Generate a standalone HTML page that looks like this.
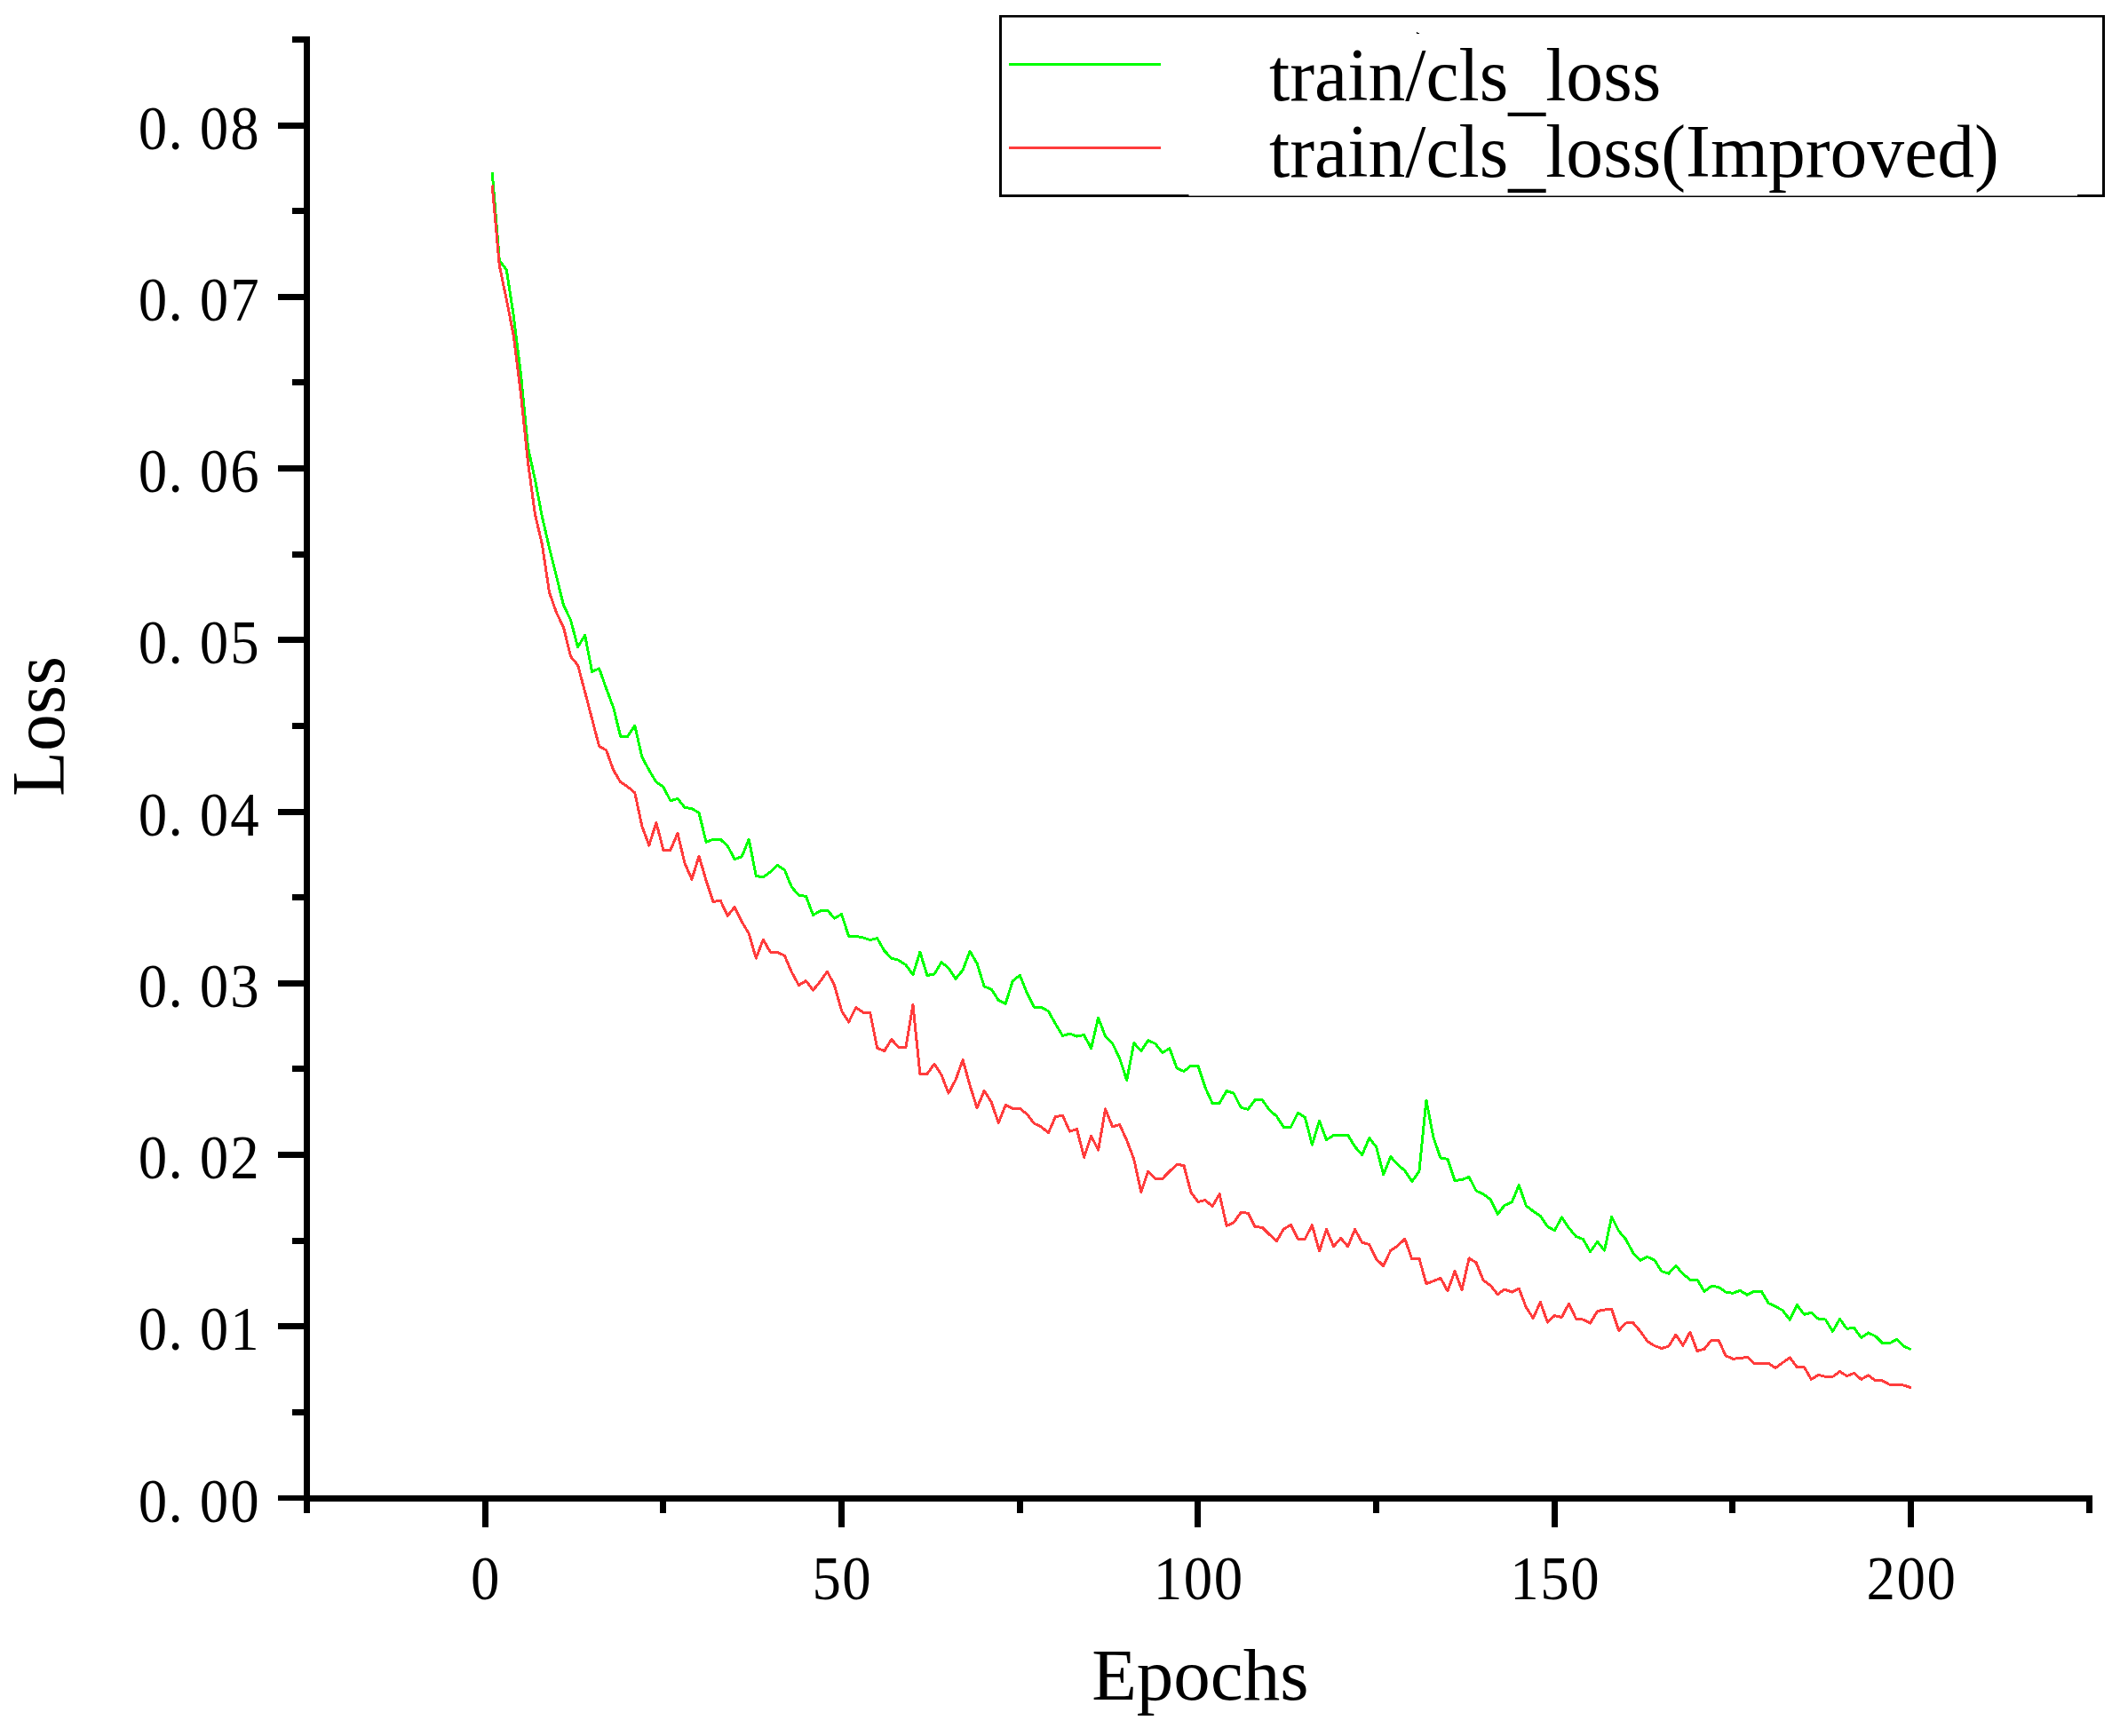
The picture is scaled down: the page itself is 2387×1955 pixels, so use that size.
<!DOCTYPE html>
<html><head><meta charset="utf-8"><title>train/cls_loss</title>
<style>
html,body{margin:0;padding:0;background:#fff;}
body{width:2387px;height:1955px;overflow:hidden;}
svg{display:block;}
text{font-family:"Liberation Serif",serif;fill:#000;}
.tk{font-size:69px;}
.lb{font-size:83.6px;}
</style></head><body>
<svg width="2387" height="1955" viewBox="0 0 2387 1955">
<rect width="2387" height="1955" fill="#fff"/>

<polyline points="554.2,193.8 562.3,293.2 570.3,304.0 578.3,356.0 586.3,420.0 594.4,503.3 602.4,540.0 610.4,582.0 618.5,617.0 626.5,649.0 634.5,681.6 642.5,698.1 650.6,728.8 658.6,715.3 666.6,756.5 674.6,752.8 682.7,775.5 690.7,797.0 698.7,829.2 706.8,829.2 714.8,817.2 722.8,852.4 730.8,867.3 738.9,880.8 746.9,886.1 754.9,901.8 763.0,899.5 771.0,909.3 779.0,910.8 787.0,915.3 795.1,948.2 803.1,945.2 811.1,945.2 819.2,952.7 827.2,967.7 835.2,964.7 843.2,945.2 851.3,986.4 859.3,987.9 867.3,981.9 875.3,974.4 883.4,979.7 891.4,999.1 899.4,1008.0 907.5,1009.4 915.5,1030.4 923.5,1025.9 931.5,1025.1 939.6,1034.1 947.6,1029.6 955.6,1054.4 963.7,1054.4 971.7,1055.9 979.7,1058.5 987.7,1056.6 995.8,1070.8 1003.8,1079.1 1011.8,1081.3 1019.9,1086.6 1027.9,1097.8 1035.9,1072.0 1043.9,1098.5 1052.0,1097.0 1060.0,1083.6 1068.0,1090.3 1076.0,1102.3 1084.1,1092.5 1092.1,1071.2 1100.1,1085.0 1108.2,1111.0 1116.2,1114.0 1124.2,1126.4 1132.2,1130.2 1140.3,1104.7 1148.3,1098.2 1156.3,1118.0 1164.4,1134.3 1172.4,1134.3 1180.4,1138.8 1188.4,1153.0 1196.5,1166.5 1204.5,1164.1 1212.5,1167.1 1220.6,1165.6 1228.6,1180.6 1236.6,1146.1 1244.6,1167.1 1252.7,1175.3 1260.7,1191.8 1268.7,1216.5 1276.7,1174.6 1284.8,1183.6 1292.8,1171.6 1300.8,1175.3 1308.9,1185.5 1316.9,1180.6 1324.9,1202.6 1332.9,1206.5 1341.0,1200.2 1349.0,1200.2 1357.0,1224.7 1365.1,1242.4 1373.1,1242.4 1381.1,1228.5 1389.1,1231.3 1397.2,1247.2 1405.2,1249.4 1413.2,1238.6 1421.3,1238.6 1429.3,1250.2 1437.3,1256.9 1445.3,1269.3 1453.4,1269.3 1461.4,1253.2 1469.4,1258.4 1477.4,1289.1 1485.5,1262.2 1493.5,1283.6 1501.5,1278.6 1509.6,1278.2 1517.6,1278.2 1525.6,1291.4 1533.6,1300.6 1541.7,1281.6 1549.7,1291.8 1557.7,1322.8 1565.8,1302.6 1573.8,1311.6 1581.8,1318.4 1589.8,1330.6 1597.9,1319.1 1605.9,1239.0 1613.9,1280.9 1622.0,1304.1 1630.0,1305.3 1638.0,1329.6 1646.0,1328.5 1654.1,1325.4 1662.1,1341.1 1670.1,1344.6 1678.1,1350.6 1686.2,1367.3 1694.2,1357.3 1702.2,1353.9 1710.3,1334.8 1718.3,1357.8 1726.3,1364.0 1734.3,1369.3 1742.4,1381.3 1750.4,1385.8 1758.4,1370.8 1766.5,1382.8 1774.5,1392.5 1782.5,1395.5 1790.5,1409.7 1798.6,1398.4 1806.6,1408.3 1814.6,1370.1 1822.7,1386.4 1830.7,1395.8 1838.7,1410.9 1846.7,1419.4 1854.8,1415.4 1862.8,1418.9 1870.8,1431.6 1878.8,1434.2 1886.9,1425.3 1894.9,1434.6 1902.9,1441.1 1911.0,1441.1 1919.0,1454.4 1927.0,1448.4 1935.0,1449.3 1943.1,1455.1 1951.1,1456.3 1959.1,1453.3 1967.2,1458.3 1975.2,1454.1 1983.2,1454.1 1991.2,1467.6 1999.3,1471.3 2007.3,1475.8 2015.3,1486.3 2023.4,1469.5 2031.4,1480.3 2039.4,1478.2 2047.4,1485.3 2055.5,1486.1 2063.5,1499.4 2071.5,1485.5 2079.5,1496.4 2087.6,1495.3 2095.6,1506.5 2103.6,1501.0 2111.7,1504.8 2119.7,1512.7 2127.7,1512.7 2135.7,1508.2 2143.8,1516.1 2151.8,1519.8" fill="none" stroke="#00ff00" stroke-width="3" stroke-linejoin="round" stroke-linecap="butt" shape-rendering="crispEdges"/>
<polyline points="554.2,208.5 562.3,299.0 570.3,337.5 578.3,378.0 586.3,442.0 594.4,520.0 602.4,579.0 610.4,613.0 618.5,667.0 626.5,689.9 634.5,706.3 642.5,739.3 650.6,749.0 658.6,779.0 666.6,809.7 674.6,840.4 682.7,845.0 690.7,867.3 698.7,880.8 706.8,886.1 714.8,892.8 722.8,930.3 730.8,952.0 738.9,926.5 746.9,957.2 754.9,957.2 763.0,938.5 771.0,972.2 779.0,990.2 787.0,964.0 795.1,991.7 803.1,1015.6 811.1,1014.0 819.2,1031.2 827.2,1021.5 835.2,1038.0 843.2,1051.4 851.3,1079.1 859.3,1058.1 867.3,1072.1 875.3,1072.4 883.4,1076.1 891.4,1094.8 899.4,1109.5 907.5,1104.6 915.5,1115.1 923.5,1105.3 931.5,1094.1 939.6,1109.8 947.6,1138.3 955.6,1151.0 963.7,1134.5 971.7,1140.2 979.7,1140.5 987.7,1180.2 995.8,1183.5 1003.8,1170.5 1011.8,1179.5 1019.9,1179.5 1027.9,1131.5 1035.9,1209.4 1043.9,1209.4 1052.0,1198.2 1060.0,1210.5 1068.0,1231.1 1076.0,1216.1 1084.1,1193.5 1092.1,1222.5 1100.1,1247.7 1108.2,1228.3 1116.2,1241.2 1124.2,1264.4 1132.2,1244.5 1140.3,1248.4 1148.3,1248.4 1156.3,1254.7 1164.4,1265.2 1172.4,1268.9 1180.4,1275.7 1188.4,1257.7 1196.5,1256.2 1204.5,1274.2 1212.5,1271.5 1220.6,1303.4 1228.6,1279.4 1236.6,1295.1 1244.6,1249.0 1252.7,1268.9 1260.7,1266.4 1268.7,1284.3 1276.7,1305.2 1284.8,1342.3 1292.8,1319.1 1300.8,1327.3 1308.9,1327.3 1316.9,1319.1 1324.9,1311.6 1332.9,1312.3 1341.0,1343.0 1349.0,1353.5 1357.0,1351.6 1365.1,1358.5 1373.1,1344.8 1381.1,1380.5 1389.1,1376.7 1397.2,1365.5 1405.2,1366.2 1413.2,1381.5 1421.3,1382.4 1429.3,1390.2 1437.3,1397.7 1445.3,1384.2 1453.4,1379.4 1461.4,1395.1 1469.4,1395.1 1477.4,1379.7 1485.5,1408.9 1493.5,1384.5 1501.5,1403.7 1509.6,1394.4 1517.6,1403.7 1525.6,1384.5 1533.6,1399.2 1541.7,1401.4 1549.7,1418.0 1557.7,1425.6 1565.8,1408.2 1573.8,1403.0 1581.8,1395.2 1589.8,1418.0 1597.9,1417.2 1605.9,1445.7 1613.9,1442.7 1622.0,1439.4 1630.0,1453.9 1638.0,1431.4 1646.0,1452.7 1654.1,1416.9 1662.1,1422.0 1670.1,1441.9 1678.1,1447.5 1686.2,1457.6 1694.2,1452.1 1702.2,1455.1 1710.3,1451.2 1718.3,1472.2 1726.3,1484.6 1734.3,1466.3 1742.4,1489.1 1750.4,1481.6 1758.4,1483.4 1766.5,1468.1 1774.5,1485.1 1782.5,1486.1 1790.5,1490.0 1798.6,1476.5 1806.6,1475.1 1814.6,1474.2 1822.7,1498.3 1830.7,1490.0 1838.7,1489.6 1846.7,1499.0 1854.8,1510.3 1862.8,1515.5 1870.8,1518.5 1878.8,1516.2 1886.9,1503.1 1894.9,1515.2 1902.9,1500.1 1911.0,1521.5 1919.0,1519.2 1927.0,1509.2 1935.0,1509.2 1943.1,1526.7 1951.1,1530.2 1959.1,1529.7 1967.2,1528.2 1975.2,1535.4 1983.2,1535.4 1991.2,1535.4 1999.3,1540.5 2007.3,1534.5 2015.3,1529.0 2023.4,1539.5 2031.4,1539.5 2039.4,1553.4 2047.4,1548.4 2055.5,1550.4 2063.5,1550.4 2071.5,1544.5 2079.5,1549.6 2087.6,1546.4 2095.6,1553.4 2103.6,1548.8 2111.7,1554.8 2119.7,1555.0 2127.7,1559.4 2135.7,1559.4 2143.8,1560.1 2151.8,1562.7" fill="none" stroke="#ff3c3c" stroke-width="3" stroke-linejoin="round" stroke-linecap="butt" shape-rendering="crispEdges"/>
<g fill="#000">
<rect x="342" y="41" width="7" height="1663"/>
<rect x="342" y="1684" width="2014" height="7"/>
<rect x="313" y="1684" width="30" height="6"/>
<rect x="329" y="1587" width="14" height="7"/>
<rect x="313" y="1490" width="30" height="7"/>
<rect x="329" y="1394" width="14" height="7"/>
<rect x="313" y="1297" width="30" height="7"/>
<rect x="329" y="1200" width="14" height="7"/>
<rect x="313" y="1104" width="30" height="7"/>
<rect x="329" y="1007" width="14" height="7"/>
<rect x="313" y="911" width="30" height="7"/>
<rect x="329" y="814" width="14" height="7"/>
<rect x="313" y="717" width="30" height="7"/>
<rect x="329" y="621" width="14" height="7"/>
<rect x="313" y="524" width="30" height="7"/>
<rect x="329" y="427" width="14" height="7"/>
<rect x="313" y="331" width="30" height="7"/>
<rect x="329" y="234" width="14" height="7"/>
<rect x="313" y="138" width="30" height="7"/>
<rect x="329" y="41" width="14" height="7"/>
<rect x="543" y="1690" width="7" height="30"/>
<rect x="743" y="1690" width="7" height="14"/>
<rect x="944" y="1690" width="7" height="30"/>
<rect x="1145" y="1690" width="7" height="14"/>
<rect x="1345" y="1690" width="7" height="30"/>
<rect x="1546" y="1690" width="7" height="14"/>
<rect x="1747" y="1690" width="7" height="30"/>
<rect x="1947" y="1690" width="7" height="14"/>
<rect x="2148" y="1690" width="7" height="30"/>
<rect x="2349" y="1690" width="7" height="14"/>
</g>
<text class="tk" transform="translate(0,1714.2) scale(0.940,1)" x="165.6 201.6 239.0 275.7" y="0">0.00</text>
<text class="tk" transform="translate(0,1520.2) scale(0.940,1)" x="165.6 201.6 239.0 275.7" y="0">0.01</text>
<text class="tk" transform="translate(0,1327.2) scale(0.940,1)" x="165.6 201.6 239.0 275.7" y="0">0.02</text>
<text class="tk" transform="translate(0,1134.2) scale(0.940,1)" x="165.6 201.6 239.0 275.7" y="0">0.03</text>
<text class="tk" transform="translate(0,941.2) scale(0.940,1)" x="165.6 201.6 239.0 275.7" y="0">0.04</text>
<text class="tk" transform="translate(0,747.2) scale(0.940,1)" x="165.6 201.6 239.0 275.7" y="0">0.05</text>
<text class="tk" transform="translate(0,554.2) scale(0.940,1)" x="165.6 201.6 239.0 275.7" y="0">0.06</text>
<text class="tk" transform="translate(0,361.2) scale(0.940,1)" x="165.6 201.6 239.0 275.7" y="0">0.07</text>
<text class="tk" transform="translate(0,168.2) scale(0.940,1)" x="165.6 201.6 239.0 275.7" y="0">0.08</text>
<text class="tk" transform="translate(0,1801.0) scale(0.940,1)" x="563.8" y="0">0</text>
<text class="tk" transform="translate(0,1801.0) scale(0.940,1)" x="972.8 1008.9" y="0">50</text>
<text class="tk" transform="translate(0,1801.0) scale(0.940,1)" x="1381.7 1417.9 1454.0" y="0">100</text>
<text class="tk" transform="translate(0,1801.0) scale(0.940,1)" x="1808.7 1844.9 1881.0" y="0">150</text>
<text class="tk" transform="translate(0,1801.0) scale(0.940,1)" x="2235.7 2271.9 2308.1" y="0">200</text>
<text class="lb" style="font-size:83px" text-anchor="middle" x="1351.3" y="1914.4">Epochs</text>
<text class="lb" transform="translate(72,897) rotate(-90)" x="0" y="0">Loss</text>
<g fill="#000">
<rect x="1125" y="17" width="1245" height="2.6"/>
<rect x="1125" y="17" width="3" height="205"/>
<rect x="2367" y="17" width="3" height="205"/>
<rect x="1125" y="220.5" width="1245" height="1.5"/>
<rect x="1125" y="219" width="213.5" height="3"/>
<rect x="2339" y="219" width="31" height="3"/>
</g>
<rect x="1595" y="36" width="1" height="2" fill="#000"/><rect x="1595" y="37" width="3" height="1" fill="#000"/>
<rect x="1136" y="71" width="171" height="3" fill="#00ff00"/>
<rect x="1136" y="165" width="171" height="3" fill="#ff3c3c"/>
<text class="lb" x="1429" y="112.5" dy="0 0 0 0 0 0 0 0 0 7.5 -7.5">train/cls_loss</text>
<text class="lb" x="1429" y="198.7" dy="0 0 0 0 0 0 0 0 0 7.5 -7.5">train/cls_loss(Improved)</text>
</svg></body></html>
